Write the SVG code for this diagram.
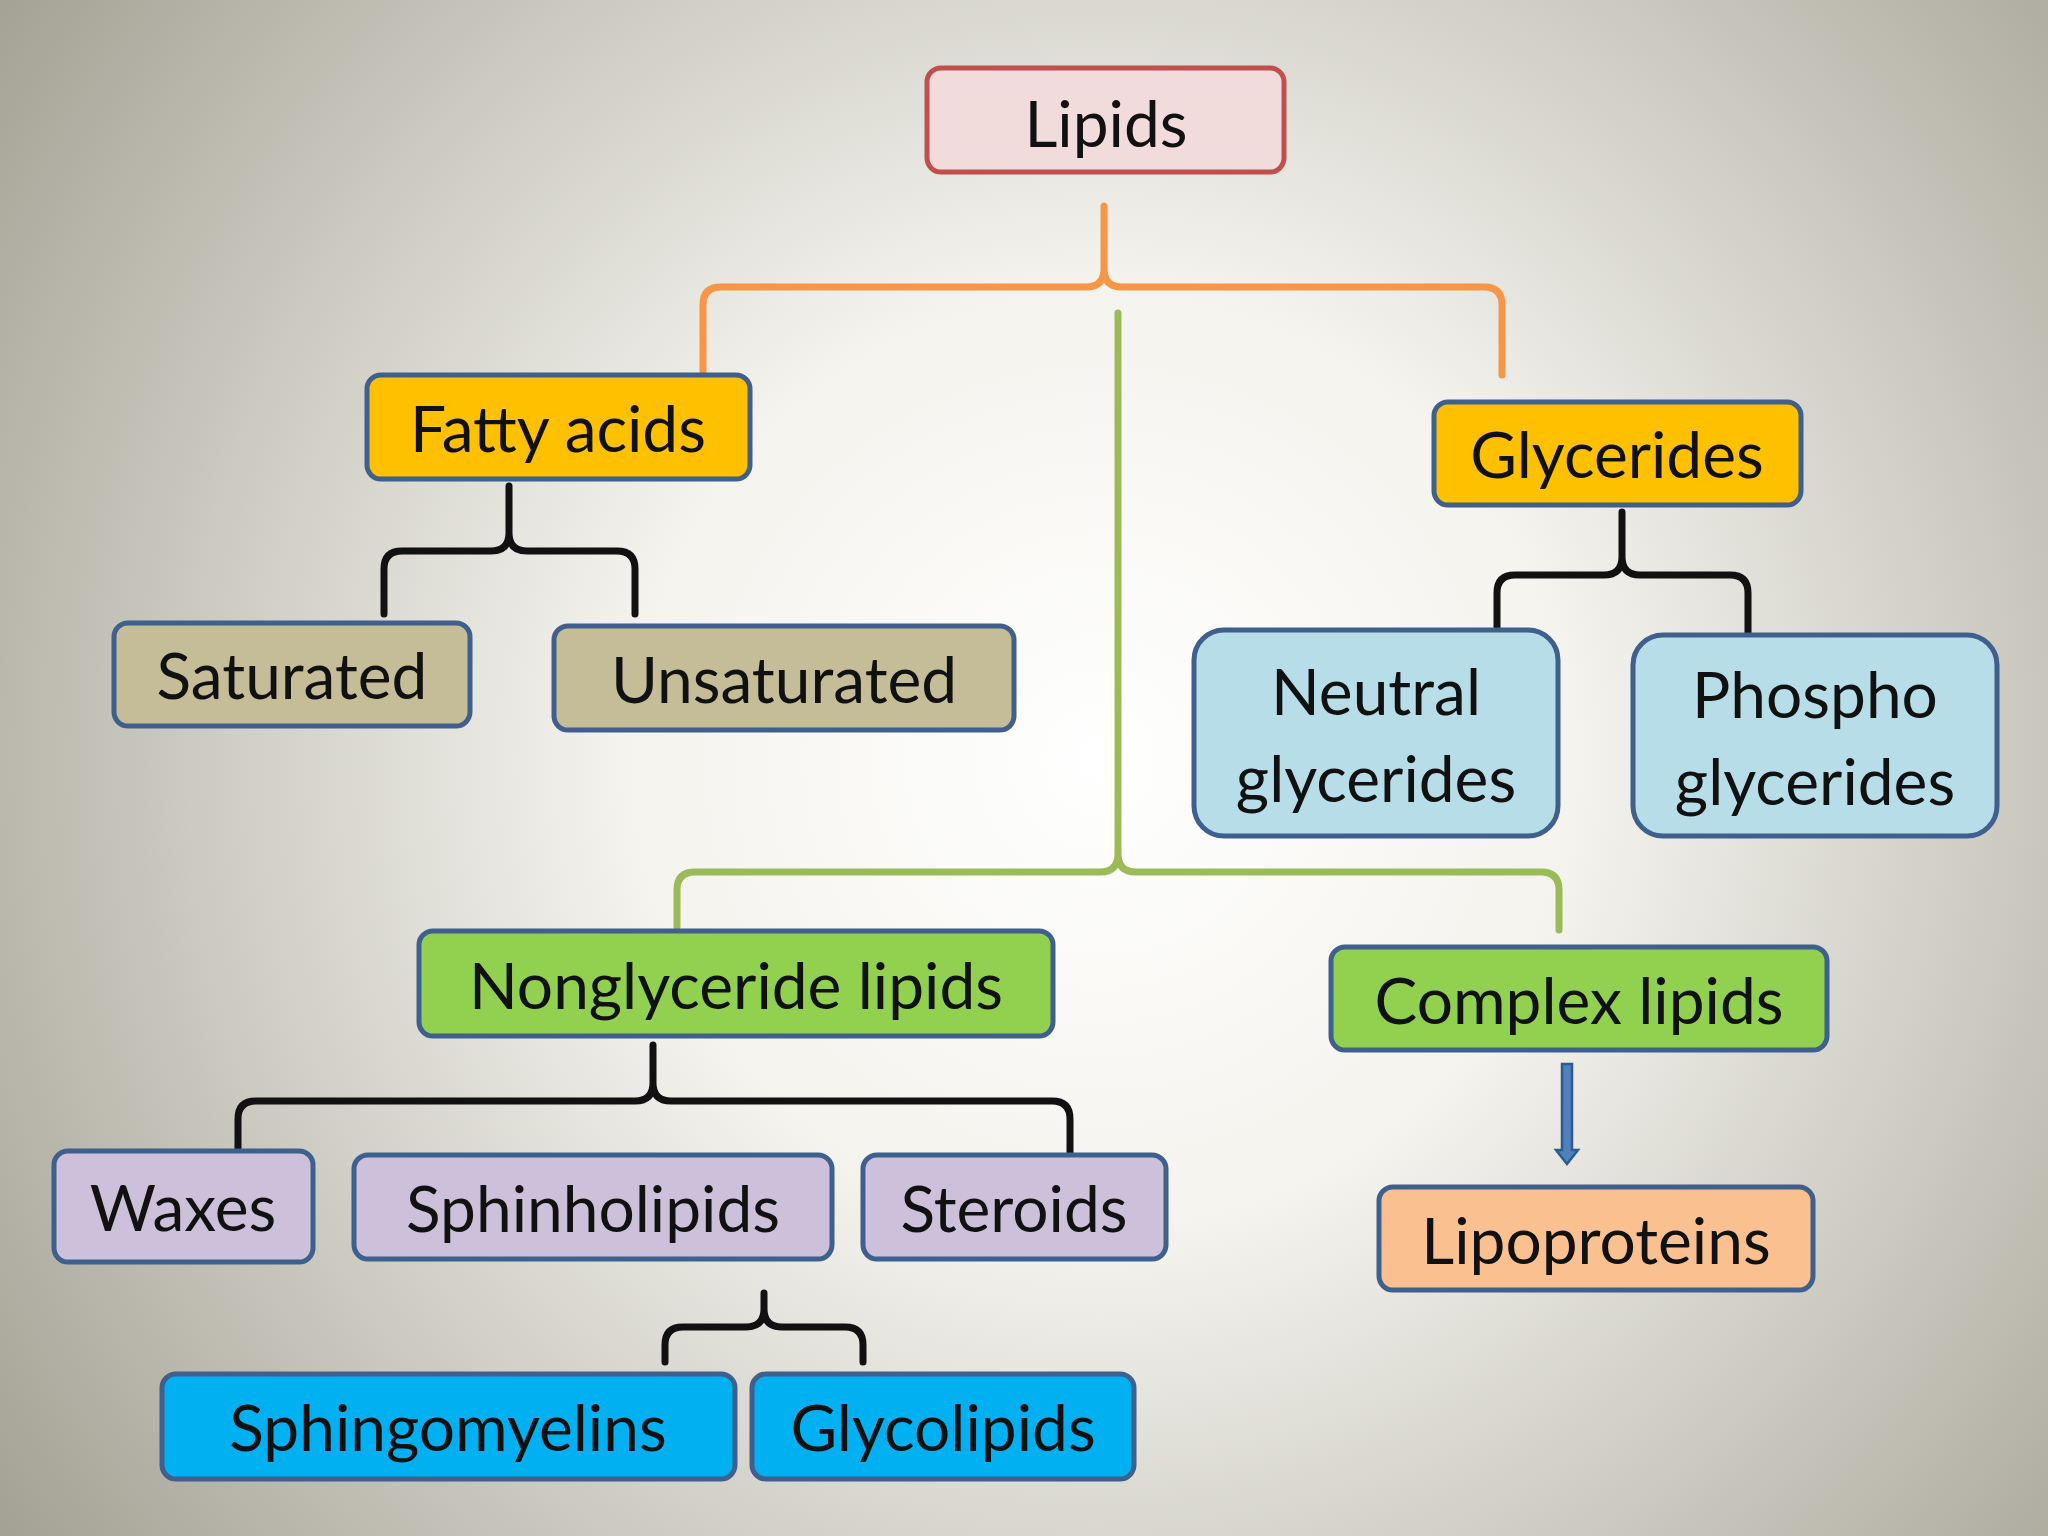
<svg xmlns="http://www.w3.org/2000/svg" width="2048" height="1536" viewBox="0 0 2048 1536">
<defs>
<radialGradient id="bg" cx="1100" cy="760" r="1350" gradientUnits="userSpaceOnUse">
<stop offset="0" stop-color="#ffffff"/><stop offset="0.35" stop-color="#f4f3ee"/><stop offset="1" stop-color="#a3a193"/>
</radialGradient>
<style>
.n{stroke:#3F5F8C;stroke-width:5}
.t{font-family:Lato,"Open Sans",sans-serif;font-size:64px;text-anchor:middle;dominant-baseline:central;fill:#111}
.br{fill:none;stroke-width:7;stroke-linecap:round;stroke-linejoin:round}
</style>
</defs>
<rect width="2048" height="1536" fill="url(#bg)"/>
<g id="connectors">
<path class="br" stroke="#F79646" d="M703 372V305Q703 287 721 287H1086Q1104 287 1104 269V206M1502 375V305Q1502 287 1484 287H1122Q1104 287 1104 269"/>
<path class="br" stroke="#9BBB59" d="M1118 313V820M677 927V890Q677 872 695 872H1100Q1118 872 1118 854V820M1559 930V890Q1559 872 1541 872H1136Q1118 872 1118 854"/>
<path class="br" stroke="#111" d="M384 614V569Q384 551 402 551H491Q509 551 509 533V486M635 614V569Q635 551 617 551H527Q509 551 509 533"/>
<path class="br" stroke="#111" d="M1497 636V593Q1497 575 1515 575H1604Q1622 575 1622 557V512M1748 636V593Q1748 575 1730 575H1640Q1622 575 1622 557"/>
<path class="br" stroke="#111" d="M238 1149V1119Q238 1101 256 1101H635Q653 1101 653 1083V1045M1070 1153V1119Q1070 1101 1052 1101H671Q653 1101 653 1083"/>
<path class="br" stroke="#111" d="M665 1362V1345Q665 1327 683 1327H746Q764 1327 764 1309V1293M863 1362V1345Q863 1327 845 1327H782Q764 1327 764 1309"/>
<path d="M1562 1064H1572V1150H1578L1567 1164L1556 1150H1562Z" fill="#4F81BD" stroke="#2F5A8F" stroke-width="2.5"/>
</g>
<g id="lipids"><rect class="n" x="927" y="68" width="357" height="104" rx="14" fill="#F2DCDB" style="stroke:#C0504D"/><text class="t" x="1106" y="122">Lipids</text></g>
<g id="fatty"><rect class="n" x="367" y="375" width="383" height="104" rx="14" fill="#FFC000"/><text class="t" x="558" y="427">Fatty acids</text></g>
<g id="glycerides"><rect class="n" x="1434" y="402" width="367" height="103" rx="14" fill="#FFC000"/><text class="t" x="1617" y="453">Glycerides</text></g>
<g id="saturated"><rect class="n" x="114" y="623" width="356" height="103" rx="14" fill="#C4BD97"/><text class="t" x="292" y="674">Saturated</text></g>
<g id="unsaturated"><rect class="n" x="554" y="626" width="460" height="104" rx="14" fill="#C4BD97"/><text class="t" x="784" y="678">Unsaturated</text></g>
<g id="neutral"><rect class="n" x="1194" y="630" width="364" height="206" rx="30" fill="#B7DDE8"/><text class="t" x="1376" y="690">Neutral</text><text class="t" x="1376" y="777">glycerides</text></g>
<g id="phospho"><rect class="n" x="1633" y="635" width="364" height="201" rx="30" fill="#B7DDE8"/><text class="t" x="1815" y="693">Phospho</text><text class="t" x="1815" y="780">glycerides</text></g>
<g id="nonglyceride"><rect class="n" x="419" y="931" width="634" height="105" rx="14" fill="#92D050"/><text class="t" x="736" y="984">Nonglyceride lipids</text></g>
<g id="complex"><rect class="n" x="1331" y="947" width="496" height="103" rx="14" fill="#92D050"/><text class="t" x="1579" y="999">Complex lipids</text></g>
<g id="waxes"><rect class="n" x="54" y="1151" width="259" height="111" rx="14" fill="#CCC0DA"/><text class="t" x="183" y="1206">Waxes</text></g>
<g id="sphinholipids"><rect class="n" x="354" y="1155" width="478" height="104" rx="14" fill="#CCC0DA"/><text class="t" x="593" y="1207">Sphinholipids</text></g>
<g id="steroids"><rect class="n" x="863" y="1155" width="303" height="104" rx="14" fill="#CCC0DA"/><text class="t" x="1014" y="1207">Steroids</text></g>
<g id="sphingomyelins"><rect class="n" x="162" y="1374" width="573" height="105" rx="14" fill="#00B0F0"/><text class="t" x="448" y="1426">Sphingomyelins</text></g>
<g id="glycolipids"><rect class="n" x="752" y="1374" width="382" height="105" rx="14" fill="#00B0F0"/><text class="t" x="943" y="1426">Glycolipids</text></g>
<g id="lipoproteins"><rect class="n" x="1379" y="1187" width="434" height="103" rx="14" fill="#FAC090"/><text class="t" x="1596" y="1239">Lipoproteins</text></g>
</svg>
